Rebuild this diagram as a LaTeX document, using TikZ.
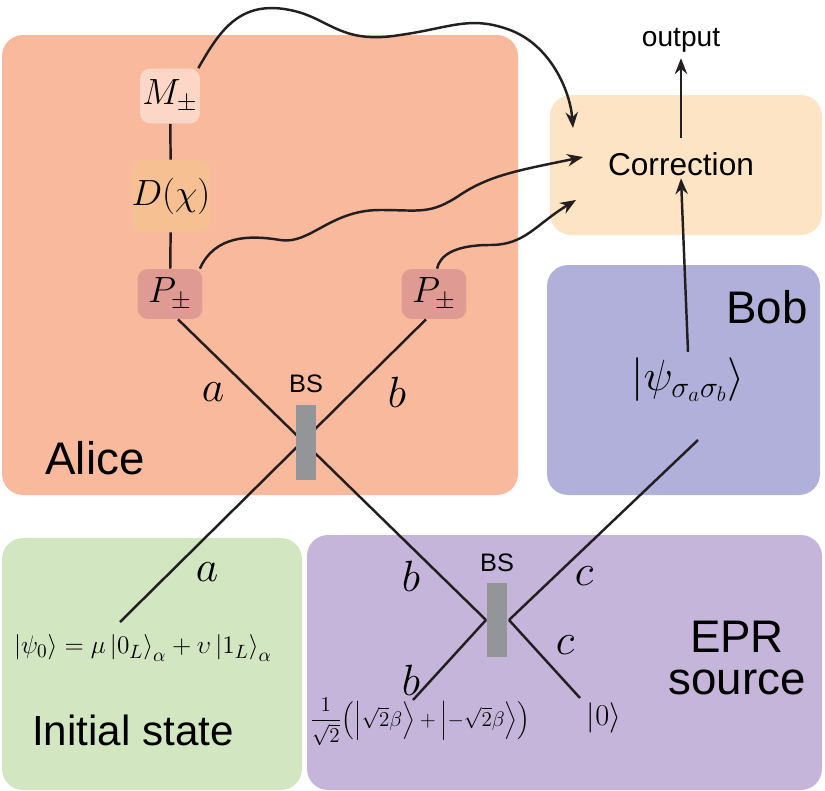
\documentclass[tikz,border=0pt]{standalone}
\usepackage{amsmath}
\usepackage{fontspec}
\setmainfont{Liberation Sans}
\usetikzlibrary{arrows.meta}
\definecolor{alice}{HTML}{F9B99D}
\definecolor{corr}{HTML}{FCE4C4}
\definecolor{bob}{HTML}{B1B0DA}
\definecolor{init}{HTML}{D2E6C2}
\definecolor{epr}{HTML}{C6B5DA}
\definecolor{mbox}{HTML}{FCD7C7}
\definecolor{dbox}{HTML}{F6C093}
\definecolor{pbox}{HTML}{DE9A93}
\definecolor{bsg}{HTML}{939598}
\definecolor{ink}{HTML}{231F20}
\begin{document}
\begin{tikzpicture}[x=0.02cm,y=-0.02cm,
  region/.style={fill=#1,rounded corners=12pt,draw=none},
  op/.style={fill=#1,rounded corners=6pt,inner sep=0pt,font=\fontsize{20}{20}\selectfont},
  ln/.style={draw=ink,line width=1.4pt},
  arr/.style={ln,-{Stealth[length=9pt,width=7pt]}},
  bs/.style={fill=bsg,draw=none},
  lab/.style={font=\fontsize{24}{24}\selectfont},
  big/.style={font=\fontsize{26}{26}\selectfont}]
\useasboundingbox (0,0) rectangle (825,791);
\fill[region=alice] (2,35) rectangle (518,495);
\fill[region=corr] (550,95) rectangle (822,235);
\fill[region=bob] (547,265) rectangle (820,495);
\fill[region=init] (2,538) rectangle (302,790);
\fill[region=epr] (307,535) rectangle (822,790);
\node[op=mbox] (M) at (170,96) [minimum width=1.2cm,minimum height=1.1cm] {$M_{\pm}$};
\node[op=dbox] (D) at (171,196) [minimum width=1.56cm,minimum height=1.44cm] {$D(\chi)$};
\node[op=pbox] (P1) at (170,294) [minimum width=1.3cm,minimum height=1.0cm] {$P_{\pm}$};
\node[op=pbox] (P2) at (434,294) [minimum width=1.3cm,minimum height=1.0cm] {$P_{\pm}$};
\draw[ln] (M) -- (D);
\draw[ln] (D) -- (P1);
\coordinate (L2a) at (486,620);
\coordinate (R2a) at (509,620);
\coordinate (Ain) at (120,622);
\coordinate (Bin) at (413,700);
\coordinate (Cin) at (580,698);
\coordinate (Psib) at (698,440);
\draw[ln] (P1.south) ++(8,0) coordinate (p1s) (p1s) -- (L2a);
\draw[ln] (P2.south) ++(-8,0) coordinate (p2s) (p2s) -- (Ain);
\draw[ln] (Bin) -- (L2a);
\draw[ln] (Cin) -- (R2a);
\node[font=\fontsize{26}{26}\selectfont] (psi) at (688,380) {$\left|\psi_{\sigma_a\sigma_b}\right\rangle$};
\draw[ln] (R2a) -- (Psib);
\fill[bs] (296,405) rectangle (316,480);
\fill[bs] (487,583) rectangle (507,657);
\node[font=\Large] (bs1) at (306,384) {BS};
\node[font=\Large] (bs2) at (497,563) {BS};
\node[lab] at (213,392) {$a$};
\node[lab] at (397,392) {$b$};
\node[lab] at (207,572) {$a$};
\node[lab] at (411,576) {$b$};
\node[lab] at (584,576) {$c$};
\node[lab] at (411,680) {$b$};
\node[lab] at (565,645) {$c$};
\node[big] at (95,458) {Alice};
\node[big] at (767,307) {Bob};
\node[big,align=center] at (737,658) {EPR\\[-2pt]source};
\node[font=\fontsize{24}{24}\selectfont] at (133,730) {Initial state};
\node[font=\fontsize{18}{18}\selectfont] (C) at (681,164) {Correction};
\node[font=\fontsize{16}{16}\selectfont] (out) at (681,40) {output};
\draw[arr] (C.north) ++(0,-8) -- (out.south);
\draw[arr] (psi.north) -- ([yshift=2pt]C.south);
\node[font=\fontsize{15.5}{15.5}\selectfont] at (143,648) {$\left|\psi_0\right\rangle=\mu\left|0_L\right\rangle_\alpha+\upsilon\left|1_L\right\rangle_\alpha$};
\node[font=\fontsize{13}{13}\selectfont] at (420,722) {$\dfrac{1}{\sqrt2}\Bigl(\Bigl|\sqrt2\beta\Bigr\rangle+\Bigl|-\sqrt2\beta\Bigr\rangle\Bigr)$};
\node[font=\fontsize{16}{16}\selectfont] at (604,718) {$\left|0\right\rangle$};
\coordinate (c1) at (573,128);
\coordinate (c2) at (583,157);
\coordinate (c3) at (576,200);
\draw[arr] (M.north east) ++(-2,0) .. controls (220,30) and (240,0) .. (290,10)
  .. controls (330,18) and (340,45) .. (400,35)
  .. controls (450,28) and (470,15) .. (510,30)
  .. controls (550,45) and (570,90) .. (c1);
\draw[arr] (P1.north east) ++(-3,0) .. controls (215,235) and (250,235) .. (280,240)
  .. controls (310,245) and (330,210) .. (380,210)
  .. controls (420,210) and (430,215) .. (460,195)
  .. controls (490,175) and (520,170) .. (c2);
\draw[arr] (P2.north) ++(3,0) .. controls (440,255) and (455,245) .. (490,245)
  .. controls (525,245) and (535,225) .. (c3);
\end{tikzpicture}
\end{document}
